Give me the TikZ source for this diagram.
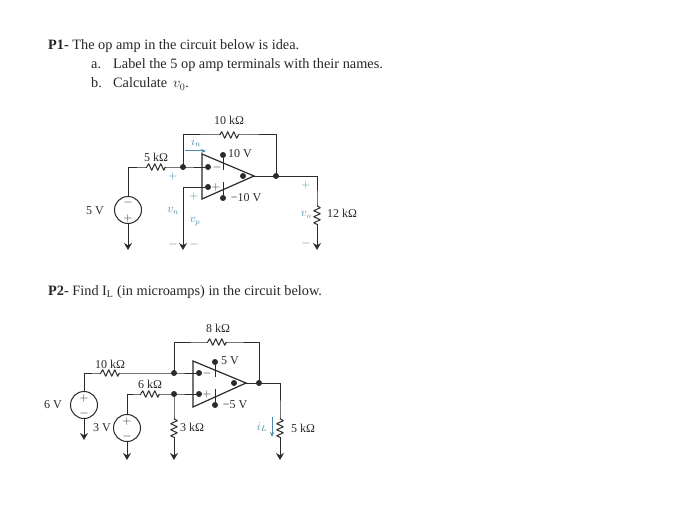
\documentclass[tikz,border=0pt]{standalone}
\usepackage{fontspec}
\setmainfont{Liberation Serif}
\usepackage{xcolor}
\usepackage[american,siunitx]{circuitikz}
\usetikzlibrary{arrows.meta,calc,positioning}
\definecolor{wirecol}{HTML}{2B2B2B}
\definecolor{signcol}{HTML}{4A8CAB}
\ctikzset{bipoles/length=22pt,bipoles/thickness=1}
\begin{document}
\begin{tikzpicture}[x=1pt,y=-1pt]
			\tikzstyle{every node}=[font=\fontsize{12}{14}\selectfont,text=wirecol]
			\tikzstyle{wire}=[line width=1pt,color=wirecol]
			\tikzstyle{gnd}=[wire,-{Stealth[length=7pt,width=8pt]}]
			\tikzstyle{dotnode}=[circle,fill=wirecol,inner sep=0pt,minimum size=6pt]
			\tikzstyle{source}=[circle,draw=wirecol,line width=1pt,inner sep=0pt,minimum size=27pt]
			\tikzstyle{amp}=[line width=1.2pt,draw=wirecol,line join=miter]
			\tikzstyle{heading}=[anchor=base west,inner sep=0pt,font=\fontsize{14.3}{17}\selectfont,text=black!85]
			\tikzstyle{blue sign}=[text=signcol,font=\fontsize{12}{14}\selectfont]
			\useasboundingbox (0,0) rectangle (700,505);
			\fill [white] (0,0) rectangle (700,505);
			% text
			\node [heading] (ptitle) at (48,50) {\textbf{P1-} The op amp in the circuit below is idea.};
			\node [heading] (parta) at (91,69) {a.};
			\node [heading] (partatext) at (113,69) {Label the 5 op amp terminals with their names.};
			\node [heading] (partb) at (91,88) {b.};
			\node [heading] (partbtext) at (113,88) {Calculate\, $v_0$.};
			\node [heading] (qtitle) at (48,295) {\textbf{P2-} Find I\textsubscript{L} (in microamps) in the circuit below.};
			% first circuit
			\coordinate (Afbl) at (183,135);
			\coordinate (Afbr) at (276,135);
			\coordinate (Afa) at (218,135);
			\coordinate (Afb) at (240,135);
			\coordinate (Ainl) at (128,167);
			\coordinate (Aia) at (145,167);
			\coordinate (Aib) at (167,167);
			\coordinate (Aout) at (317,176);
			\coordinate (Ala) at (317,204);
			\coordinate (Alb) at (317,226);
			\coordinate (Aload) at (317,250);
			\coordinate (Apl) at (183,187);
			\coordinate (Apg) at (183,250);
			\coordinate (Ag) at (128,250);
			\coordinate (Atip) at (254,176);
			\node [source] (Asrc) at (128,210) {};
			\node [dotnode] (Ajn) at (183,167) {};
			\node [dotnode] (Ajo) at (276,176) {};
			\node [dotnode] (Apin) at (208,167) {};
			\node [dotnode] (Appin) at (208,187) {};
			\node [dotnode] (Aopin) at (243,176) {};
			\node [dotnode] (Atop) at (223,155) {};
			\node [dotnode] (Abot) at (223,198) {};
			\draw [amp] (202,154) -- (Atip) -- (202,199) -- cycle;
			\draw [wire] (Asrc.north) -- (Ainl) -- (Aia) to[R] (Aib) -- (Ajn.center) -- (Apin);
			\draw [wire] (Ajn.center) -- (Afbl) -- (Afa) to[R] (Afb) -- (Afbr) -- (Ajo.center);
			\draw [wire] (Atip) -- (Aout) -- (Ala) to[R] (Alb);
			\draw [gnd] (Alb) -- (Aload);
			\draw [gnd] (Appin) -- (Apl) -- (Apg);
			\draw [gnd] (Asrc.south) -- (Ag);
			\draw [wire] (Atop) -- (223,170);
			\draw [wire] (Abot) -- (223,182);
			\node (Aminus) at (128,202) {$-$};
			\node (Aplus) at (128,218) {$+$};
			\node (Ainvs) at (217,167) {$-$};
			\node (Anon) at (216,187) {$+$};
			\node (Afbt) at (229,120) {10 kΩ};
			\node (Ainr) at (156,157) {5 kΩ};
			\node (Avp) at (240,154) {10 V};
			\node (Avm) at (246,198) {−10 V};
			\node (Avs) at (95,211) {5 V};
			\node (Arl) at (342,213) {12 kΩ};
			\node [blue sign] (Ain) at (196,142) {$i_n$};
			\draw [signcol,line width=1pt,-{Stealth[length=5pt,width=4pt]}] (185,151) -- (206,151);
			\node [blue sign] (Ap1) at (173,176) {$+$};
			\node [blue sign] (Ap2) at (194,196) {$+$};
			\node [blue sign] (Ap3) at (306,185) {$+$};
			\node [blue sign] (Avn) at (173,211) {$v_n$};
			\node [blue sign] (Avpp) at (195,222) {$v_p$};
			\node [blue sign] (Avo) at (306,215) {$v_o$};
			\node [blue sign] (Am1) at (173,244) {$-$};
			\node [blue sign] (Am2) at (194,244) {$-$};
			\node [blue sign] (Am3) at (306,243) {$-$};
			% second circuit
			\coordinate (Bfbl) at (174,342);
			\coordinate (Bfbr) at (259,342);
			\coordinate (Bfa) at (206,342);
			\coordinate (Bfb) at (228,342);
			\coordinate (Bil) at (84,373);
			\coordinate (Bia) at (99,373);
			\coordinate (Bib) at (121,373);
			\coordinate (Bpl) at (127,394);
			\coordinate (Bpa) at (139,394);
			\coordinate (Bpb) at (161,394);
			\coordinate (Bout) at (280,383);
			\coordinate (Bra) at (174,417);
			\coordinate (Brb) at (174,439);
			\coordinate (Bla) at (280,417);
			\coordinate (Blb) at (280,439);
			\coordinate (Btip) at (246,383);
			\coordinate (Bg1) at (84,440);
			\coordinate (Bg2) at (127,460);
			\coordinate (Bg3) at (174,460);
			\coordinate (Bg4) at (280,460);
			\node [source] (Bs1) at (84,405) {};
			\node [source] (Bs2) at (127,428) {};
			\node [dotnode] (Bjn) at (174,373) {};
			\node [dotnode] (Bjp) at (174,394) {};
			\node [dotnode] (Bjo) at (259,383) {};
			\node [dotnode] (Bpin) at (199,373) {};
			\node [dotnode] (Bppin) at (199,394) {};
			\node [dotnode] (Bopin) at (234,383) {};
			\node [dotnode] (Btop) at (215,362) {};
			\node [dotnode] (Bbot) at (215,405) {};
			\draw [amp] (193,361) -- (Btip) -- (193,407) -- cycle;
			\draw [wire] (Bs1.north) -- (Bil) -- (Bia) to[R] (Bib) -- (Bjn.center) -- (Bpin);
			\draw [wire] (Bs2.north) -- (Bpl) -- (Bpa) to[R] (Bpb) -- (Bjp.center) -- (Bppin);
			\draw [wire] (Bjn.center) -- (Bfbl) -- (Bfa) to[R] (Bfb) -- (Bfbr) -- (Bjo.center);
			\draw [wire] (Btip) -- (Bout) -- (Bla) to[R] (Blb);
			\draw [wire] (Bjp.center) -- (Bra) to[R] (Brb);
			\draw [gnd] (Brb) -- (Bg3);
			\draw [gnd] (Blb) -- (Bg4);
			\draw [gnd] (Bs1.south) -- (Bg1);
			\draw [gnd] (Bs2.south) -- (Bg2);
			\draw [wire] (Btop) -- (215,377);
			\draw [wire] (Bbot) -- (215,389);
			\node (Bp1) at (84,398) {$+$};
			\node (Bm1) at (84,413) {$-$};
			\node (Bp2) at (127,421) {$+$};
			\node (Bm2) at (127,436) {$-$};
			\node (Binvs) at (207,373) {$-$};
			\node (Bnon) at (207,394) {$+$};
			\node (Bfbt) at (218,328) {8 kΩ};
			\node (Bi1) at (110,364) {10 kΩ};
			\node (Bi2) at (150,384) {6 kΩ};
			\node (Bvp) at (230,361) {5 V};
			\node (Bvm) at (235,405) {−5 V};
			\node (Bv1) at (53,405) {6 V};
			\node (Bv2) at (102,428) {3 V};
			\node (Br1) at (192,427) {3 kΩ};
			\node (Br2) at (303,428) {5 kΩ};
			\node [blue sign] (Bil2) at (262,427) {$i_L$};
			\draw [signcol,line width=1pt,-{Stealth[length=5pt,width=4pt]}] (272,417) -- (272,437);
		\end{tikzpicture}
\end{document}
